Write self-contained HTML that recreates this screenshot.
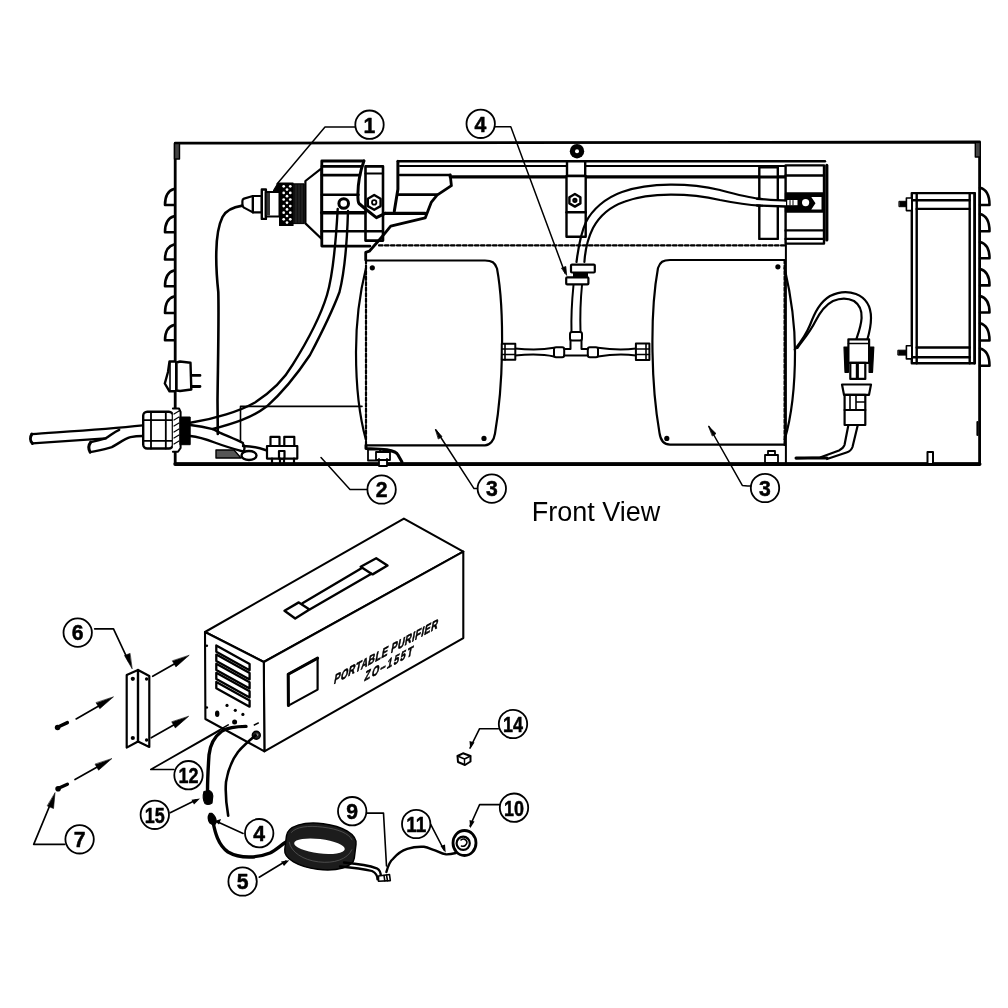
<!DOCTYPE html>
<html><head><meta charset="utf-8">
<style>
html,body{margin:0;padding:0;background:#fff;}
body{width:1008px;height:1008px;overflow:hidden;}
svg{display:block;filter:blur(0.3px);}
.t{font-family:"Liberation Sans",sans-serif;}
</style></head>
<body>
<svg width="1008" height="1008" viewBox="0 0 1008 1008" fill="none" stroke="#000" stroke-linejoin="round" stroke-linecap="round">
<rect x="0" y="0" width="1008" height="1008" fill="#fff" stroke="none"/>

<!-- ===== FRONT VIEW ===== -->
<g id="frame">
  <path d="M175.2 143.2 L979.6 142 V464 H175.2 Z" stroke-width="2.8"/>
  <path d="M175.2 464.1 H979.6" stroke-width="3.8"/>
  <rect x="174.5" y="143.5" width="5" height="15.5" fill="#444" stroke-width="1.4"/>
  <rect x="975.3" y="142.5" width="5" height="14.5" fill="#444" stroke-width="1.4"/>
</g>
<!-- left louvers -->
<g id="louvL" stroke-width="2.6">
  <path d="M174 189 C168.5 190.5 165 195.4 165 205 H174"/>
  <path d="M174 216.3 C168.5 217.8 165 222.7 165 232.3 H174"/>
  <path d="M174 244.5 C168.5 246.0 165 250.5 165 259.5 H174"/>
  <path d="M174 270.5 C168.5 272.0 165 276.8 165 286.3 H174"/>
  <path d="M174 296.5 C168.5 298.0 165 303.1 165 313 H174"/>
  <path d="M174 325 C168.5 326.5 165 331.1 165 340.3 H174"/>
</g>
<!-- right louvers -->
<g id="louvR" stroke-width="2.6">
  <path d="M980 187.8 C986 189.3 989.5 194.7 989.5 205 H980"/>
  <path d="M980 214 C986 215.5 989.5 220.9 989.5 231.3 H980"/>
  <path d="M980 242 C986 243.5 989.5 248.5 989.5 258.3 H980"/>
  <path d="M980 269 C986 270.5 989.5 275.6 989.5 285.4 H980"/>
  <path d="M980 296 C986 297.5 989.5 302.6 989.5 312.5 H980"/>
  <path d="M980 323.2 C986 324.7 989.5 330.1 989.5 340.5 H980"/>
  <path d="M980 348.4 C986 349.9 989.5 355.3 989.5 365.7 H980"/>
</g>


<!-- lamp connector -->
<g id="lamp" stroke-width="2.2">
  <path d="M252.9 196 L244 198.6 Q242.4 199.2 242.4 201 V205.3 Q242.4 207 244 207.6 L252.9 212.4 Z" fill="#fff"/>
  <rect x="252.9" y="196" width="8.9" height="16.4" fill="#fff"/>
  <rect x="261.8" y="189.5" width="4.1" height="29.4" fill="#fff" stroke-width="2.4"/>
  <rect x="265.9" y="192" width="13.7" height="24.5" fill="#fff"/>
  <rect x="266.5" y="193" width="3.5" height="22.5" fill="#333" stroke="none"/>
  <path d="M273.5 190.5 L278 183 H293 V225.4 H279.6 V190.5 Z" fill="#000" stroke-width="1.2"/>
  <rect x="293" y="183.8" width="11.2" height="39.8" fill="#111" stroke-width="1"/>
  <path d="M296 185 V222.5 M299 185 V222.5 M302 185 V222.5" stroke="#3a3a3a" stroke-width="0.7"/>
  <g fill="#fff" stroke="none">
    <circle cx="283.7" cy="186.3" r="1.35"/><circle cx="290.3" cy="186.3" r="1.35"/>
    <circle cx="287" cy="189.6" r="1.35"/>
    <circle cx="283.7" cy="192.9" r="1.35"/><circle cx="290.3" cy="192.9" r="1.35"/>
    <circle cx="287" cy="196.2" r="1.35"/>
    <circle cx="283.7" cy="199.5" r="1.35"/><circle cx="290.3" cy="199.5" r="1.35"/>
    <circle cx="287" cy="202.8" r="1.35"/>
    <circle cx="283.7" cy="206.1" r="1.35"/><circle cx="290.3" cy="206.1" r="1.35"/>
    <circle cx="287" cy="209.4" r="1.35"/>
    <circle cx="283.7" cy="212.7" r="1.35"/><circle cx="290.3" cy="212.7" r="1.35"/>
    <circle cx="287" cy="216.0" r="1.35"/>
    <circle cx="283.7" cy="219.3" r="1.35"/><circle cx="290.3" cy="219.3" r="1.35"/>
    <circle cx="287" cy="222.6" r="1.35"/>
  </g>
  <path d="M305.4 181 L321.5 168.4 V238.8 L305.4 223.4 Z" fill="#fff"/>
  <!-- holder block -->
  <path d="M363.9 161 H321.8 V246.1 H369.9" fill="#fff" stroke-width="2.8"/>
  <path d="M321.8 166.4 H362 M321.8 175.1 H360 M321.8 194.8 H358.5 M321.8 231.3 H383" stroke-width="2.6"/>
  <path d="M321.8 212.8 H365" stroke-width="3.6"/>
  <path d="M365.5 166.4 H383 V240.6 H365.5 Z" stroke-width="2.6"/>
  <path d="M365.5 173.5 H383" stroke-width="2.2"/>
  <circle cx="343.7" cy="203.5" r="4.8" fill="#fff" stroke-width="3"/>
  <path d="M374.2 195 L380.6 198.7 V206.1 L374.2 209.8 L367.8 206.1 V198.7 Z" fill="#fff" stroke-width="2.4"/>
  <circle cx="374.2" cy="202.4" r="2.2" stroke-width="1.8"/>
</g>
<!-- wire from nozzle -->
<path d="M242.4 205.6 C233 207 226 210 222.5 217 C218 226 216.5 240 216.3 252 C216 265 217 280 218.3 292 C219 320 218 360 217.5 400 L217.8 434" stroke-width="2.6"/>

<!-- rail -->
<g id="rail" stroke-width="2.4">
  <path d="M397.9 161.3 H825"/>
  <path d="M400 166.1 H824" stroke-width="2"/>
  <path d="M400 175 H450.2"/>
  <path d="M450.2 176.8 H785" stroke-width="3.2"/>
  <path d="M397.9 161.3 V189.3 L394.3 211.3" stroke-width="3"/>
  <path d="M398.5 194.6 H437.1" stroke-width="2.6"/>
  <path d="M450.2 175 L451.4 185.7 L437.1 195.2 L431.2 202.4 L425.2 217.9 L390.7 226.2 L384.8 233.3 L378.8 240.5 L369.3 251.2 L365.7 252.4 V260" stroke-width="2.8"/>
  <path d="M384.8 213.3 H425.2" stroke-width="3.2"/>
  <path d="M363.9 161 C360 172 358 185 357.9 193.7 C357.8 199 358 202 359 203.5 L365.5 209 L376.4 217.7 L385.2 213.3" stroke-width="3"/>
  <path d="M379 245.4 H785" stroke-width="2.2" stroke-dasharray="3.6 2.4"/>
</g>
<!-- top bolt -->
<circle cx="577" cy="151.2" r="7.2" fill="#000" stroke="none"/><circle cx="577" cy="151.2" r="2" fill="#fff" stroke="none"/>
<!-- clamp -->
<g stroke-width="2.4">
  <rect x="567" y="161.4" width="18.2" height="14.5" fill="#fff"/>
  <rect x="566.5" y="176" width="19.2" height="60.8" fill="#fff"/>
  <path d="M566.5 212.2 H585.7"/>
  <path d="M574.9 194 L580.4 197.2 V203.4 L574.9 206.6 L569.4 203.4 V197.2 Z" fill="#fff"/>
  <circle cx="574.9" cy="200.3" r="1.4"/>
</g>
<!-- right end rail block -->
<g stroke-width="2.4">
  <rect x="759.3" y="167.3" width="18.5" height="71.6" fill="#fff"/>
  <path d="M759.3 177 H777.8" stroke-width="3.2"/>
  <path d="M785.6 165.4 H824 V243.6 H785.6 Z" fill="#fff"/>
  <path d="M826.8 165.4 V240" stroke-width="3.2"/>
  <path d="M785.6 175.5 H823 M785.6 230.4 H823 M785.6 238.9 H823" stroke-width="2.4"/>
  <path d="M785.6 193 H823 V212 H785.6 Z" fill="#000" stroke-width="1.5"/>
  <path d="M787.2 200 H797.5 V205.2 H787.2 Z" fill="#fff" stroke="none"/>
  <path d="M811.3 197 H821.5 V209.5 H811.3 L815.5 203.2 Z" fill="#fff" stroke="none"/>
  <circle cx="805.6" cy="202.6" r="3.6" fill="#fff" stroke="none"/>
  <path d="M790 200.5 V205 M793 200.5 V205" stroke-width="1" stroke="#000"/>
</g>
<!-- tube passing over strap -->
<path d="M757 198.7 C765 199.6 775 200 786 200.5 V206.5 C775 206.2 765 205.8 757 205.5 Z" fill="#fff" stroke="none"/>
<path d="M757 198.7 C765 199.6 775 200 786 200.5 M757 205.5 C765 205.8 775 206.2 786 206.5" stroke-width="2.4"/>



<!-- board -->
<path d="M240.5 440.5 V406.4 H362" stroke-width="1.6"/>
<!-- tube from lamp holder down to gland -->
<g stroke-width="2.4">
  <path d="M337.7 209 C336 240 333 275 327 295 C320 318 305 345 292.7 364.6 C285 378 271 392 255 402.5 C240 411 215 419 190.3 422.8"/>
  <path d="M348 211 C347 245 344.5 272 339.5 292 C332 312 320 336 310 355 C298 373 283 392 266.9 406.3 C252 418 232 424 212.8 429"/>
</g>
<!-- power cord + gland -->
<g stroke-width="2.4">
  <path d="M190.3 425 C200 426 207 427.5 212.8 429.1 C215 430 217.5 431.5 219.7 432.6 C227 436 235 439 243 443"/>
  <path d="M190.3 436 C200 437 208 440 214.6 442.5 C224 446 234 449 243 451.5"/>
  <path d="M243 444 C245 446 245 450 243 452"/>
  <path d="M243 446 C252 446 260 448 267 450.5"/>
  <ellipse cx="249" cy="455.5" rx="7.5" ry="4.5"/>
  <path d="M216 450 H234 L241 458 H216 Z" fill="#555" stroke-width="1.4"/>
  <path d="M31.8 434.1 C60 432 100 430 142.8 425.4"/>
  <path d="M32.4 443.4 L105.6 438.4"/>
  <path d="M31.8 434.1 C30 437 30 441 32.4 443.4" stroke-width="3"/>
  <path d="M90.7 442.2 C96 441 100 440 105.6 438.4 C110 436 114 432 119.2 429.8"/>
  <path d="M90.1 452.1 C98 451 105 449 111.8 447.1 C118 444 124 439 130.4 437.2 C135 436.2 139 436 142.8 436"/>
  <path d="M90.7 442.2 C88.5 445 88.5 449 90.1 452.1" stroke-width="3"/>
  <rect x="143.2" y="411.8" width="29.7" height="36.7" rx="4" fill="#fff"/>
  <path d="M151 412 V448.5 M165.8 412 V448.5 M143.2 420.1 H172.9 M143.2 440.8 H172.9" stroke-width="1.8"/>
  <path d="M172.9 408.5 H179 L180.6 412 V448 L178 451.7 H172.9" fill="#fff" stroke-width="2"/>
  <path d="M174 414 L179 411 M174 420 L179 417 M174 426 L179 423 M174 432 L179 429 M174 438 L179 435 M174 444 L179 441" stroke-width="1.2"/>
  <rect x="180.2" y="417" width="10" height="27.7" fill="#000" stroke-width="1"/>
</g>
<!-- switch -->
<g stroke-width="2.4">
  <path d="M175 361.5 H169.5 L168 372 L164.8 383.5 L169.5 391.3 H175" fill="#fff"/>
  <path d="M170 362 V391" stroke-width="1.6"/>
  <path d="M176.5 362.5 L180 361.5 L190.5 362.8 L191.3 389.5 L180 391 L176.5 390.5 Z" fill="#fff"/>
  <path d="M191.3 375.4 H200 M191.3 386.5 H200" stroke-width="2.8"/>
</g>
<!-- terminal block -->
<g stroke-width="2.2">
  <rect x="270.5" y="436.8" width="9" height="9.2" fill="#fff"/>
  <rect x="284.3" y="436.8" width="10" height="9.2" fill="#fff"/>
  <rect x="267" y="446" width="30.3" height="12.6" fill="#fff"/>
  <rect x="279" y="451" width="5.5" height="7.6" fill="#fff"/>
  <path d="M272 458.6 V463 M280 458.6 V463 M284 458.6 V463 M294 458.6 V463"/>
</g>
<!-- chambers -->
<g id="chL" stroke-width="2.2">
  <path d="M366 260.5 H485 C492 260.5 495 262.5 497 268.5 C502 295 502.5 320 502 352 C501.5 385 499 410 495 433.5 C494 440.5 490 445.3 485 445.3 H366" fill="#fff"/>
  <path d="M366 260 V446" stroke-dasharray="3.5 2"/>
  <path d="M366 268 C358 300 356 330 356 352 C356 385 359 415 366 440"/>
  <path d="M366 445.3 V448.5 C372 449 395 448 398 455 L402 462" stroke-width="3"/>
  <circle cx="372.3" cy="267.8" r="2.6" fill="#000" stroke="none"/>
  <circle cx="484" cy="438.4" r="2.6" fill="#000" stroke="none"/>
  <rect x="368" y="449.5" width="12" height="11" fill="#fff" stroke-width="1.8"/>
  <path d="M376 452 H390 V460 H376 Z M379 459 V466 H387 V459" fill="#fff" stroke-width="1.8"/>
</g>
<g id="chR" stroke-width="2.2">
  <path d="M784.6 260 H670 C663 260 660 262 658 268 C653 295 652 320 652.5 352 C653 385 655.5 410 659.5 433 C660.5 440 664 444.6 670 444.6 H784.6" fill="#fff"/>
  <path d="M784.6 260 V446" stroke-dasharray="3.5 2"/>
  <path d="M784.6 268 C792 300 795 330 795 352 C795 385 792 415 784.6 440"/>
  <circle cx="777.9" cy="266.8" r="2.6" fill="#000" stroke="none"/>
  <circle cx="666.8" cy="438.4" r="2.6" fill="#000" stroke="none"/>
  <path d="M765 455 H778 V463 H765 Z M768 455 V451 H775 V455" fill="#fff" stroke-width="1.8"/>
</g>
<path d="M785.9 244.8 V463" stroke-width="2"/>
<!-- T fitting -->
<g stroke-width="2">
  <path d="M515 348.5 C530 350 545 349.5 554 347.8 M515 355.5 C530 354 545 354.5 554 356.5" />
  <path d="M598 347.8 C610 349.5 625 350 636 348.5 M598 356.5 C610 354.5 625 354 636 355.5" />
  <rect x="554" y="347.3" width="10.2" height="10" rx="2" fill="#fff"/>
  <rect x="587.8" y="347.3" width="10.2" height="10" rx="2" fill="#fff"/>
  <path d="M564.2 349 H570.5 V340 M564.2 355.5 H587.8 M581.5 340 V349 H587.8"/>
  <rect x="570" y="332" width="12" height="8.5" rx="2" fill="#fff"/>
  <path d="M571.5 332 C571 315 572 300 573.5 285 M580.5 332 C580 315 580.5 300 582 285"/>
  <rect x="501.8" y="343.8" width="13.5" height="16" fill="#fff"/>
  <path d="M505 344 V360 M501.8 349 H515.3 M501.8 354.5 H515.3" stroke-width="1.6"/>
  <rect x="635.9" y="343.6" width="13.5" height="16.3" fill="#fff"/>
  <path d="M646 344 V360 M635.9 349 H649.4 M635.9 354.5 H649.4" stroke-width="1.6"/>
</g>
<!-- fitting under 4 -->
<g stroke-width="2.2">
  <path d="M576.5 262 C578 250 580 235 586 222 C592 210 605 198 622 192 C650 182 690 183 720 190 C735 194 748 197.5 760 198.8"/>
  <path d="M584.4 262 C585 252 588 238 593 228 C600 215 612 206 625 201.5 C650 192 690 193 720 200 C735 203 748 205 760 205.6"/>
  <rect x="571" y="264.6" width="23.8" height="7.9" rx="1" fill="#fff"/>
  <path d="M573 272.5 H588 V277.3 H573 Z" fill="#000" stroke="none"/>
  <rect x="566.2" y="277.3" width="22.2" height="7.1" rx="1" fill="#fff"/>
</g>


<!-- filter -->
<g stroke-width="2.4">
  <rect x="911.8" y="193.1" width="63" height="170.2" fill="#fff"/>
  <path d="M916.7 193.1 V363.3 M969.7 193.1 V363.3 M974.5 193.1 V363.3"/>
  <path d="M911.8 200.2 H969.7 M916.7 208.9 H969.7 M916.7 347.5 H969.7 M911.8 357.3 H969.7"/>
  <rect x="906.4" y="198" width="5.4" height="12.6" fill="#fff" stroke-width="1.6"/>
  <rect x="899.3" y="201.3" width="7.1" height="5.4" fill="#000" stroke-width="1"/>
  <rect x="906.4" y="345.8" width="5.4" height="13.1" fill="#fff" stroke-width="1.6"/>
  <rect x="898.2" y="350.2" width="8.2" height="4.9" fill="#000" stroke-width="1"/>
</g>
<!-- right cable + connector -->
<g stroke-width="2.2">
  <path d="M794.7 349.7 C800 343 806 335 810 325 C815 312 820 302 830 296 C838 292 848 291 856 294 C866 298 871 306 871 318 C871 327 869 334 867.2 340"/>
  <path d="M797.5 347.8 C803 340 810 332 815 322 C820 312 825 305 833 301 C840 298 848 298 854 301 C860 305 862 311 861.6 318 C861 327 858 334 856 340"/>
  <rect x="848.4" y="339.3" width="20.7" height="23.6" fill="#fff"/>
  <path d="M848.4 343.5 H869.1" stroke-width="1.6"/>
  <rect x="850.3" y="362.9" width="6.6" height="16" fill="#fff"/>
  <rect x="857.8" y="362.9" width="7.5" height="16" fill="#fff"/>
  <path d="M844 347 H848.4 V372.3 H845 Z M869.1 347 H873.8 L872.5 372.3 H869.1 Z" fill="#000" stroke-width="1.2"/>
  <path d="M842 384.5 H871 L869 394.9 H844 Z" fill="#fff"/>
  <rect x="844.6" y="394.9" width="20.7" height="15.1" fill="#fff"/>
  <path d="M850 394.9 V410 M856 394.9 V410 M856 402 H865" stroke-width="1.6"/>
  <rect x="844.6" y="410" width="20.7" height="15" fill="#fff"/>
  <path d="M848.4 425 L844.5 445 C843.5 448 842 449 839 450.5 L820 457.5 L796 458.3"/>
  <path d="M857.8 425 L852.5 447 C851.5 450 849.5 451.5 846.5 452.5 L827 459"/>
  <path d="M796 458 H827" stroke-width="3"/>
</g>
<!-- misc right bottom -->
<path d="M927.5 463 V452 H933 V463" stroke-width="2" fill="#fff"/>
<path d="M977.5 422 V435" stroke-width="2.2"/>

<!-- labels front -->
<g id="labelsF" stroke-width="1.8">
  <circle cx="369.5" cy="124.7" r="14.2"/>
  <circle cx="480.7" cy="123.8" r="14.2"/>
  <circle cx="381.6" cy="489.5" r="14.2"/>
  <circle cx="491.8" cy="488.6" r="14.2"/>
  <circle cx="765" cy="488" r="14.2"/>
</g>
<g stroke-width="1.5">
  <path d="M355 127 H325 L277 184"/>
  <path d="M495 126.8 H510.8 L565 273"/>
  <path d="M367 489.5 H350 L321 457.5"/>
  <path d="M477.5 488.6 H474 L436 430"/>
  <path d="M750.8 486 H747.7 L742.3 485.4 L709 426.5"/>
</g>
<g fill="#000" stroke="#000" stroke-width="0.8" stroke-linejoin="miter">
  <path d="M435.6 429.6 L442 436.6 L438.6 438.8 Z"/>
  <path d="M708.8 426.5 L716 433.6 L712.6 435.8 Z"/>
  <path d="M566.6 275 L565.8 266.5 L561.8 268 Z"/>
</g>
<g class="t" font-weight="bold" font-size="22" fill="#000" stroke="#000" stroke-width="0.5" text-anchor="middle">
  <text x="369.5" y="132.5" textLength="11.8" lengthAdjust="spacingAndGlyphs">1</text>
  <text x="480.5" y="131.6" textLength="11.8" lengthAdjust="spacingAndGlyphs">4</text>
  <text x="381.6" y="497.3" textLength="11.8" lengthAdjust="spacingAndGlyphs">2</text>
  <text x="491.8" y="496.4" textLength="11.8" lengthAdjust="spacingAndGlyphs">3</text>
  <text x="765" y="495.8" textLength="11.8" lengthAdjust="spacingAndGlyphs">3</text>
</g>
<text class="t" x="531.7" y="520.6" font-size="27" fill="#000" stroke="none">Front View</text>


<!-- ===== LOWER VIEW ===== -->
<g id="box" stroke-width="2.1">
  <path d="M205 632 L403.9 518.6 L463.3 551.6 L263.8 662 Z" fill="#fff"/>
  <path d="M263.8 662 L463.3 551.6 V638.1 L264.4 751.3 Z" fill="#fff"/>
  <path d="M205 632 L263.8 662 L264.4 751.3 L205.4 719 Z" fill="#fff"/>
  <!-- handle -->
  <path d="M284.5 610.7 L298.8 602.4 L309.5 609.5 L295.2 618.5 Z" fill="#fff" stroke-width="2.4"/>
  <path d="M360.7 566.7 L376.2 558.3 L387.5 565.5 L372.6 574.4 Z" fill="#fff" stroke-width="2.4"/>
  <path d="M302.4 603.2 L361.9 568 M310.5 609 L371.4 573.8" stroke-width="2.4"/>
  <!-- window -->
  <path d="M288.2 674.2 L317.6 658.1 V689.6 L288.4 705.6 Z" fill="#fff" stroke-width="2.2"/>
  <path d="M288.4 705.6 L288.2 674.2 L317.6 658.1" stroke-width="3"/>
  <!-- louvers -->
  <g stroke-width="2.3" fill="#fff">
    <path d="M216.3 645.5 L249.6 664.0 L249.6 670.3 L216.3 651.8 Z"/>
    <path d="M216.3 654.6 L249.6 673.1 L249.6 679.4 L216.3 660.9 Z"/>
    <path d="M216.3 663.7 L249.6 682.2 L249.6 688.5 L216.3 670.0 Z"/>
    <path d="M216.3 672.8 L249.6 691.3 L249.6 697.6 L216.3 679.1 Z"/>
    <path d="M216.3 681.9 L249.6 700.4 L249.6 706.7 L216.3 688.2 Z"/>
  </g>
  <!-- holes -->
  <g fill="#000" stroke="none">
    <circle cx="227" cy="705.4" r="1.6"/>
    <circle cx="235.3" cy="710.3" r="1.6"/>
    <circle cx="242.9" cy="714.4" r="1.6"/>
    <ellipse cx="217.2" cy="713.8" rx="2.2" ry="3.2"/>
    <circle cx="234.6" cy="722" r="2.5"/>
    <path d="M253.5 724.5 L258.5 722 L259 723.5 L254 726 Z"/>
    <circle cx="206.8" cy="645.7" r="1.3"/>
    <circle cx="206.8" cy="707.5" r="1.3"/>
  </g>
  <circle cx="256.3" cy="735.2" r="4" fill="#222" stroke-width="1.4"/>
  <circle cx="257" cy="734.8" r="1.4" fill="#888" stroke="none"/>
</g>
<g class="t" font-weight="bold" font-size="12.5" fill="#000" stroke="#000" stroke-width="0.6">
  <text transform="translate(333.5,684.3) skewY(-28.5) skewX(-12) scale(0.74,1)" textLength="140" lengthAdjust="spacing">PORTABLE  PURIFIER</text>
  <text transform="translate(364,681.3) skewY(-28.5) skewX(-12) scale(0.74,1)" textLength="65" lengthAdjust="spacing">ZO–155T</text>
</g>
<!-- cables from box -->
<g fill="none">
  <path d="M246 726.4 C238 726.5 228 727.5 222 731 C214 737 210 745 209 755 C208 770 207.5 782 207.5 792" stroke-width="3.4"/>
  <path d="M204 791.5 C203 795 203 800 205 803.5 C207 804.8 210 804.3 212 803 L212.8 796 C212.5 793 211 791 209 790.5 Z" fill="#000" stroke-width="1.2"/>
  <path d="M255.7 735.3 C250 740 243 746 238 752 C232 760 228 770 226 782 C225 795 226.5 806 228.2 815.7" stroke-width="2.6"/>
</g>
<!-- bracket 6 -->
<g stroke-width="2.2">
  <path d="M126.7 675 L138 670 L149.3 676 V747 L138 741.5 L126.7 747.6 Z" fill="#fff"/>
  <path d="M138 670 V741.5" stroke-width="2.4"/>
  <g fill="#000" stroke="none">
    <circle cx="132.8" cy="678.8" r="2.1"/><circle cx="132.8" cy="738" r="2.1"/>
    <circle cx="146.6" cy="679" r="1.7"/><circle cx="146.6" cy="740" r="1.7"/>
  </g>
</g>
<!-- arrows -->
<g stroke-width="1.7">
  <path d="M152.7 676.3 L176 663"/>
  <path d="M151.2 737.8 L175 724.3"/>
  <path d="M76.1 718.9 L100 705.3"/>
  <path d="M75 779.5 L99 766"/>
  <path d="M94.7 628.8 H113.5 L128.5 661"/>
  <path d="M33.7 844.3 H64.7 M33.7 844.3 L50 805"/>
</g>
<g fill="#000" stroke="#000" stroke-width="0.6">
  <path d="M188.9 655.5 L175.9 666.9 L172.5 661.1 Z"/>
  <path d="M188.4 716.5 L175.3 727.9 L171.9 722.1 Z"/>
  <path d="M113.2 697.1 L99.8 708.7 L96.2 702.9 Z"/>
  <path d="M111.6 758.8 L98.6 770.2 L95.2 764.4 Z"/>
  <path d="M132 668.5 L124.5 655.5 L129.8 653.5 Z"/>
  <path d="M55 793 L53.5 808.5 L47.5 806 Z"/>
</g>
<g fill="#000" stroke="#000" stroke-linecap="round">
  <circle cx="57.6" cy="727.5" r="2.8" stroke="none"/>
  <path d="M58 727 L67.4 722.6" stroke-width="3.4"/>
  <circle cx="58.1" cy="788.7" r="2.8" stroke="none"/>
  <path d="M58.5 788.2 L67.4 784.2" stroke-width="3.4"/>
</g>
<!-- leaders lower -->
<g stroke-width="1.6">
  <path d="M173.9 769.5 H150.8 L219.3 730.8 M150.8 769.5 L228.2 724.9"/>
  <path d="M170.2 812.7 L196 800"/>
  <path d="M243.1 833.5 L219 822.5"/>
  <path d="M259.2 877.2 L286 861"/>
  <path d="M366.6 813.1 H383.5 L386.5 866"/>
  <path d="M430.7 824.4 L444 850"/>
  <path d="M499.5 804.6 H479.6 L470 826"/>
  <path d="M498.5 728.7 H479.6 L470 748"/>
</g>
<g fill="#000" stroke="none">
  <path d="M200 798.5 L191.5 799.7 L194 804.5 Z"/>
  <path d="M214.8 820.9 L221 819 L219 824.5 Z"/>
  <path d="M289.3 860.2 L281 861.5 L284 866 Z"/>
  <path d="M470.2 828.2 L469.5 820 L474.5 821.5 Z"/>
  <path d="M470.2 749 L469.5 741 L474.5 742.5 Z"/>
  <path d="M445.7 852.7 L440.5 846 L445 844.5 Z"/>
</g>
<!-- coil 5 -->
<g fill="none">
  <path d="M213 822 C215 832 218 845 228 852 C240 859 258 858 270 853 C276 850 281 845 286 842" stroke-width="3.4"/>
<g transform="rotate(7 320.5 846)">
  <path d="M285.5 840 C285.5 830 301 823.5 320.5 823.5 C340 823.5 355.5 830 355.5 840 V854 C355.5 863 340 869.5 320.5 869.5 C301 869.5 285.5 863 285.5 854 Z" fill="#1c1c1c" stroke="#000" stroke-width="1.5"/>
  <ellipse cx="319.5" cy="846.3" rx="25.5" ry="7.2" fill="#fff" stroke="none"/>
  <path d="M289 846 C292 856 305 862 320.5 862 C336 862 349 856 352 846" stroke="#555" stroke-width="0.8"/>
  <path d="M290 836 C294 830 305 827 320.5 827 C336 827 347 830 351 836" stroke="#555" stroke-width="0.8"/>
</g>
  <path d="M344 862.5 C355 863.5 368 865 376.7 868.3 C380 870 381 873 380.8 877" stroke-width="2.3"/>
  <path d="M340 866.5 C352 867.5 364 869 372 871 C376 873 377.5 876 377.5 879.4" stroke-width="2.3"/>
  <path d="M386.4 872 C388 866 390 861 393.3 858.6 C398 853 402 850.5 407.2 848.9 C413 847 419 846.5 423.9 846.8 C428 847.5 431 849 435 850.3 C439 852 442 854 446.1 854.4 C449 854.5 452 854 455.8 853" stroke-width="2.4"/>
  <path d="M378.5 876 L389.5 874.5 L390.3 880.6 L378.5 881.2 Z" fill="#fff" stroke-width="1.6"/>
  <path d="M384 875.5 L384.8 880.8 M386.5 875 L387.5 880.6" stroke-width="1.6"/>
  <path d="M209.5 813.5 C208 816 208 820 210 823 L214 825.5 L216.3 822 C216 818 214 815 212 813.5 Z" fill="#000" stroke-width="1.4"/>
</g>
<!-- part 10, 11, 14 -->
<g stroke-width="2.2">
  <ellipse cx="464.5" cy="843" rx="11.5" ry="12.5" fill="#fff" stroke-width="2.8"/>
  <circle cx="463.2" cy="843.3" r="6.6" fill="#fff" stroke-width="2.2"/>
  <path d="M461 840 C463 838 466 839 467 842 C467 845 464 847 461.5 846" stroke-width="1.6"/>
  <path d="M457.5 756 L463 753.3 L470.5 756 V761.5 L465 765 L458 762 Z" fill="#fff" stroke-width="2"/>
  <path d="M457.5 756 L464.5 759 L470.5 756 M464.5 759 V764.5" stroke-width="1.4"/>
</g>
<!-- labels lower -->
<g stroke-width="1.8">
  <circle cx="77.7" cy="632.6" r="14.2"/>
  <circle cx="79.6" cy="839.3" r="14.2"/>
  <circle cx="188.5" cy="775.2" r="14.2"/>
  <circle cx="154.8" cy="814.8" r="14.2"/>
  <circle cx="259.2" cy="833.2" r="14.2"/>
  <circle cx="242.6" cy="881.5" r="14.2"/>
  <circle cx="352.2" cy="811.2" r="14.2"/>
  <circle cx="416.2" cy="824" r="14.2"/>
  <circle cx="514" cy="807.7" r="14.2"/>
  <circle cx="513" cy="724" r="14.2"/>
</g>
<g class="t" font-weight="bold" font-size="22" fill="#000" stroke="#000" stroke-width="0.5" text-anchor="middle">
  <text x="77.7" y="640.4" textLength="11.8" lengthAdjust="spacingAndGlyphs">6</text>
  <text x="79.6" y="847.1" textLength="11.8" lengthAdjust="spacingAndGlyphs">7</text>
  <text x="188.5" y="783" textLength="20.0" lengthAdjust="spacingAndGlyphs">12</text>
  <text x="154.8" y="822.6" textLength="20.0" lengthAdjust="spacingAndGlyphs">15</text>
  <text x="259.2" y="841" textLength="11.8" lengthAdjust="spacingAndGlyphs">4</text>
  <text x="242.6" y="889.3" textLength="11.8" lengthAdjust="spacingAndGlyphs">5</text>
  <text x="352.2" y="819" textLength="11.8" lengthAdjust="spacingAndGlyphs">9</text>
  <text x="416.2" y="831.8" textLength="20.0" lengthAdjust="spacingAndGlyphs">11</text>
  <text x="514" y="815.5" textLength="20.0" lengthAdjust="spacingAndGlyphs">10</text>
  <text x="513" y="731.8" textLength="20.0" lengthAdjust="spacingAndGlyphs">14</text>
</g>

</svg>
</body></html>
